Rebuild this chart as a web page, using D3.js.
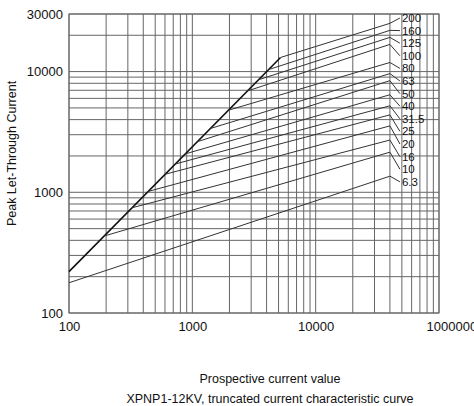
<!DOCTYPE html>
<html>
<head>
  <meta charset="utf-8">
  <style>
    body { margin: 0; background: #fff; }
    text { font-family: "Liberation Sans", Arial, sans-serif; }
  </style>
</head>
<body>
  <div id="chart"></div>
  <script src="https://d3js.org/d3.v7.min.js"></script>
  <script>
    // fuse ratings, where each curve leaves the cut-off line, and its value at 40000 A
    var ratings  = ["200", "160", "125", "100", "80", "63", "50", "40", "31.5", "25", "20", "16", "10", "6.3"];
    var startX   = [5190, 4150, 3440, 2800, 1962, 1401, 1099, 877, 728, 603, 439, 325, 193, 100];
    var endY     = [25100, 21960, 19200, 16800, 11900, 9620, 8410, 6430, 5210, 4380, 3550, 2710, 2150, 1360];
    var start63Y = 178;          // 6.3 curve starts at the left edge, below the cut-off line
    var cutoff   = [[100, 220], [5190, 13090]];
    var endX     = 40000;
    var xTicks   = [100, 1000, 10000, 100000];
    var yTicks   = [100, 1000, 10000, 30000];

    var W = 474, H = 406;
    var margin = {top: 14, right: 35, bottom: 93, left: 69};
    var width = W - margin.left - margin.right,
        height = H - margin.top - margin.bottom;

    var svg = d3.select("#chart").append("svg")
        .attr("width", W).attr("height", H)
        .append("g")
        .attr("transform", "translate(" + margin.left + "," + margin.top + ")");

    var x = d3.scaleLog().domain([100, 100000]).range([0, width]);
    var y = d3.scaleLog().domain([100, 30000]).range([height, 0]);

    // grid
    var xGrid = [], yGrid = [];
    [100, 1000, 10000].forEach(function(d) { for (var k = 1; k < 10; k++) xGrid.push(d * k); });
    xGrid.push(100000);
    [100, 1000, 10000].forEach(function(d) { for (var k = 1; k < 10; k++) if (d * k <= 30000) yGrid.push(d * k); });

    svg.selectAll("line.vg").data(xGrid).enter().append("line")
        .attr("x1", d => x(d)).attr("x2", d => x(d))
        .attr("y1", 0).attr("y2", height)
        .attr("stroke", "#666").attr("stroke-width", 1);
    svg.selectAll("line.hg").data(yGrid).enter().append("line")
        .attr("y1", d => y(d)).attr("y2", d => y(d))
        .attr("x1", 0).attr("x2", width)
        .attr("stroke", "#666").attr("stroke-width", 1);
    svg.append("rect").attr("width", width).attr("height", height)
        .attr("fill", "none").attr("stroke", "#666");

    // axes (labels only)
    var xAxis = svg.append("g").attr("transform", "translate(0," + height + ")")
        .call(d3.axisBottom(x).tickValues(xTicks).tickSize(0).tickPadding(9)
          .tickFormat(d => d === 100000 ? "1000000" : d));
    xAxis.selectAll("text").style("font-size", "13px").attr("fill", "#111")
        .filter(d => d === 100000).attr("text-anchor", "start").attr("dx", -13);
    var yAxis = svg.append("g")
        .call(d3.axisLeft(y).tickValues(yTicks).tickSize(0).tickPadding(6).tickFormat(d => d));
    yAxis.selectAll("text").style("font-size", "13px").attr("fill", "#111");
    svg.selectAll(".domain").remove();

    // cut-off line
    var line = d3.line().x(d => x(d[0])).y(d => y(d[1]));
    svg.append("path").attr("d", line(cutoff))
        .attr("fill", "none").attr("stroke", "#111").attr("stroke-width", 1.6);

    function onCutoff(v) {
      var t = (Math.log(v) - Math.log(cutoff[0][0])) / (Math.log(cutoff[1][0]) - Math.log(cutoff[0][0]));
      return Math.exp(Math.log(cutoff[0][1]) + t * (Math.log(cutoff[1][1]) - Math.log(cutoff[0][1])));
    }

    var labelY0 = 4, labelStep = 12.6, labelX = x(endX) + 12;
    ratings.forEach(function(r, i) {
      var sy = r === "6.3" ? start63Y : onCutoff(startX[i]);
      var ly = labelY0 + i * labelStep;
      svg.append("path").attr("d", line([[startX[i], sy], [endX, endY[i]]]))
          .attr("fill", "none").attr("stroke", "#333").attr("stroke-width", 1);
      svg.append("line")
          .attr("x1", x(endX)).attr("y1", y(endY[i]))
          .attr("x2", labelX - 2).attr("y2", ly)
          .attr("stroke", "#333");
      svg.append("text").attr("x", labelX).attr("y", ly)
          .attr("dy", "0.35em").style("font-size", "11.5px").attr("fill", "#111")
          .text(r);
    });

    // titles
    svg.append("text").attr("transform", "rotate(-90)")
        .attr("x", -height / 2 + 10).attr("y", -margin.left + 16)
        .attr("text-anchor", "middle").style("font-size", "12.5px").attr("fill", "#111")
        .text("Peak Let-Through Current");
    svg.append("text").attr("x", 201).attr("y", height + 70)
        .attr("text-anchor", "middle").style("font-size", "12.5px").attr("fill", "#111")
        .text("Prospective current value");
    svg.append("text").attr("x", 201).attr("y", height + 90)
        .attr("text-anchor", "middle").style("font-size", "12.5px").attr("fill", "#111")
        .text("XPNP1-12KV, truncated current characteristic curve");
  </script>
</body>
</html>
